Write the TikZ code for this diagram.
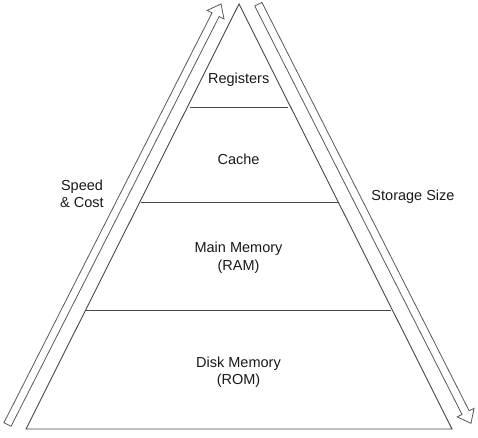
\documentclass[tikz,border=0pt]{standalone}
\usepackage{fontspec}
\setmainfont{Liberation Sans}
\usetikzlibrary{calc}
\begin{document}
\begin{tikzpicture}[x=1pt,y=-1pt,
  edge/.style={draw=black!72,line width=0.9pt,line join=miter},
  lvl/.style={draw=black!72,line width=0.9pt},
  lbl/.style={font=\fontsize{14.5}{17.5}\selectfont,align=center,inner sep=0pt,text=black!90},
  hollow/.style={draw=black!65,line width=0.8pt,fill=white,line join=miter}]
\useasboundingbox (0,0) rectangle (478,437);
% pyramid
\coordinate (apex) at (239,4);
\coordinate (bl) at (26,429);
\coordinate (br) at (452,429);
\draw[edge] (apex) -- (br) -- (bl) -- cycle;
% level lines
\coordinate (l1a) at (190,107.5); \coordinate (l1b) at (288,107.5);
\coordinate (l2a) at (140.5,202); \coordinate (l2b) at (338,202);
\coordinate (l3a) at (86,310); \coordinate (l3b) at (391,310);
\draw[lvl] (l1a) -- (l1b);
\draw[lvl] (l2a) -- (l2b);
\draw[lvl] (l3a) -- (l3b);
% labels
\node[lbl] (reg) at (238.7,80) {Registers};
\node[lbl] (cache) at (238.5,159) {Cache};
\node[lbl] (main) at (238.5,257.5) {Main Memory\\(RAM)};
\node[lbl] (disk) at (238.5,372) {Disk Memory\\(ROM)};
\node[lbl] (speed) at (82,194) {Speed\\\& Cost};
\node[lbl] (store) at (413,197) {Storage Size};
% left hollow arrow (upwards)
\coordinate (T1) at (7.5,424.5);
\coordinate (P1) at (221,4);
\coordinate (B1) at ($(P1)!12pt!(T1)$);
\draw[hollow] ($(T1)!4pt!90:(P1)$) -- ($(B1)!4pt!90:(P1)$) -- ($(B1)!9.5pt!90:(P1)$)
  -- (P1) -- ($(B1)!9.5pt!-90:(P1)$) -- ($(B1)!4pt!-90:(P1)$) -- ($(T1)!4pt!-90:(P1)$) -- cycle;
% right hollow arrow (downwards)
\coordinate (T2) at (258.3,4.2);
\coordinate (P2) at (471,423.3);
\coordinate (B2) at ($(P2)!12pt!(T2)$);
\draw[hollow] ($(T2)!4pt!90:(P2)$) -- ($(B2)!4pt!90:(P2)$) -- ($(B2)!9.5pt!90:(P2)$)
  -- (P2) -- ($(B2)!9.5pt!-90:(P2)$) -- ($(B2)!4pt!-90:(P2)$) -- ($(T2)!4pt!-90:(P2)$) -- cycle;
\end{tikzpicture}
\end{document}
